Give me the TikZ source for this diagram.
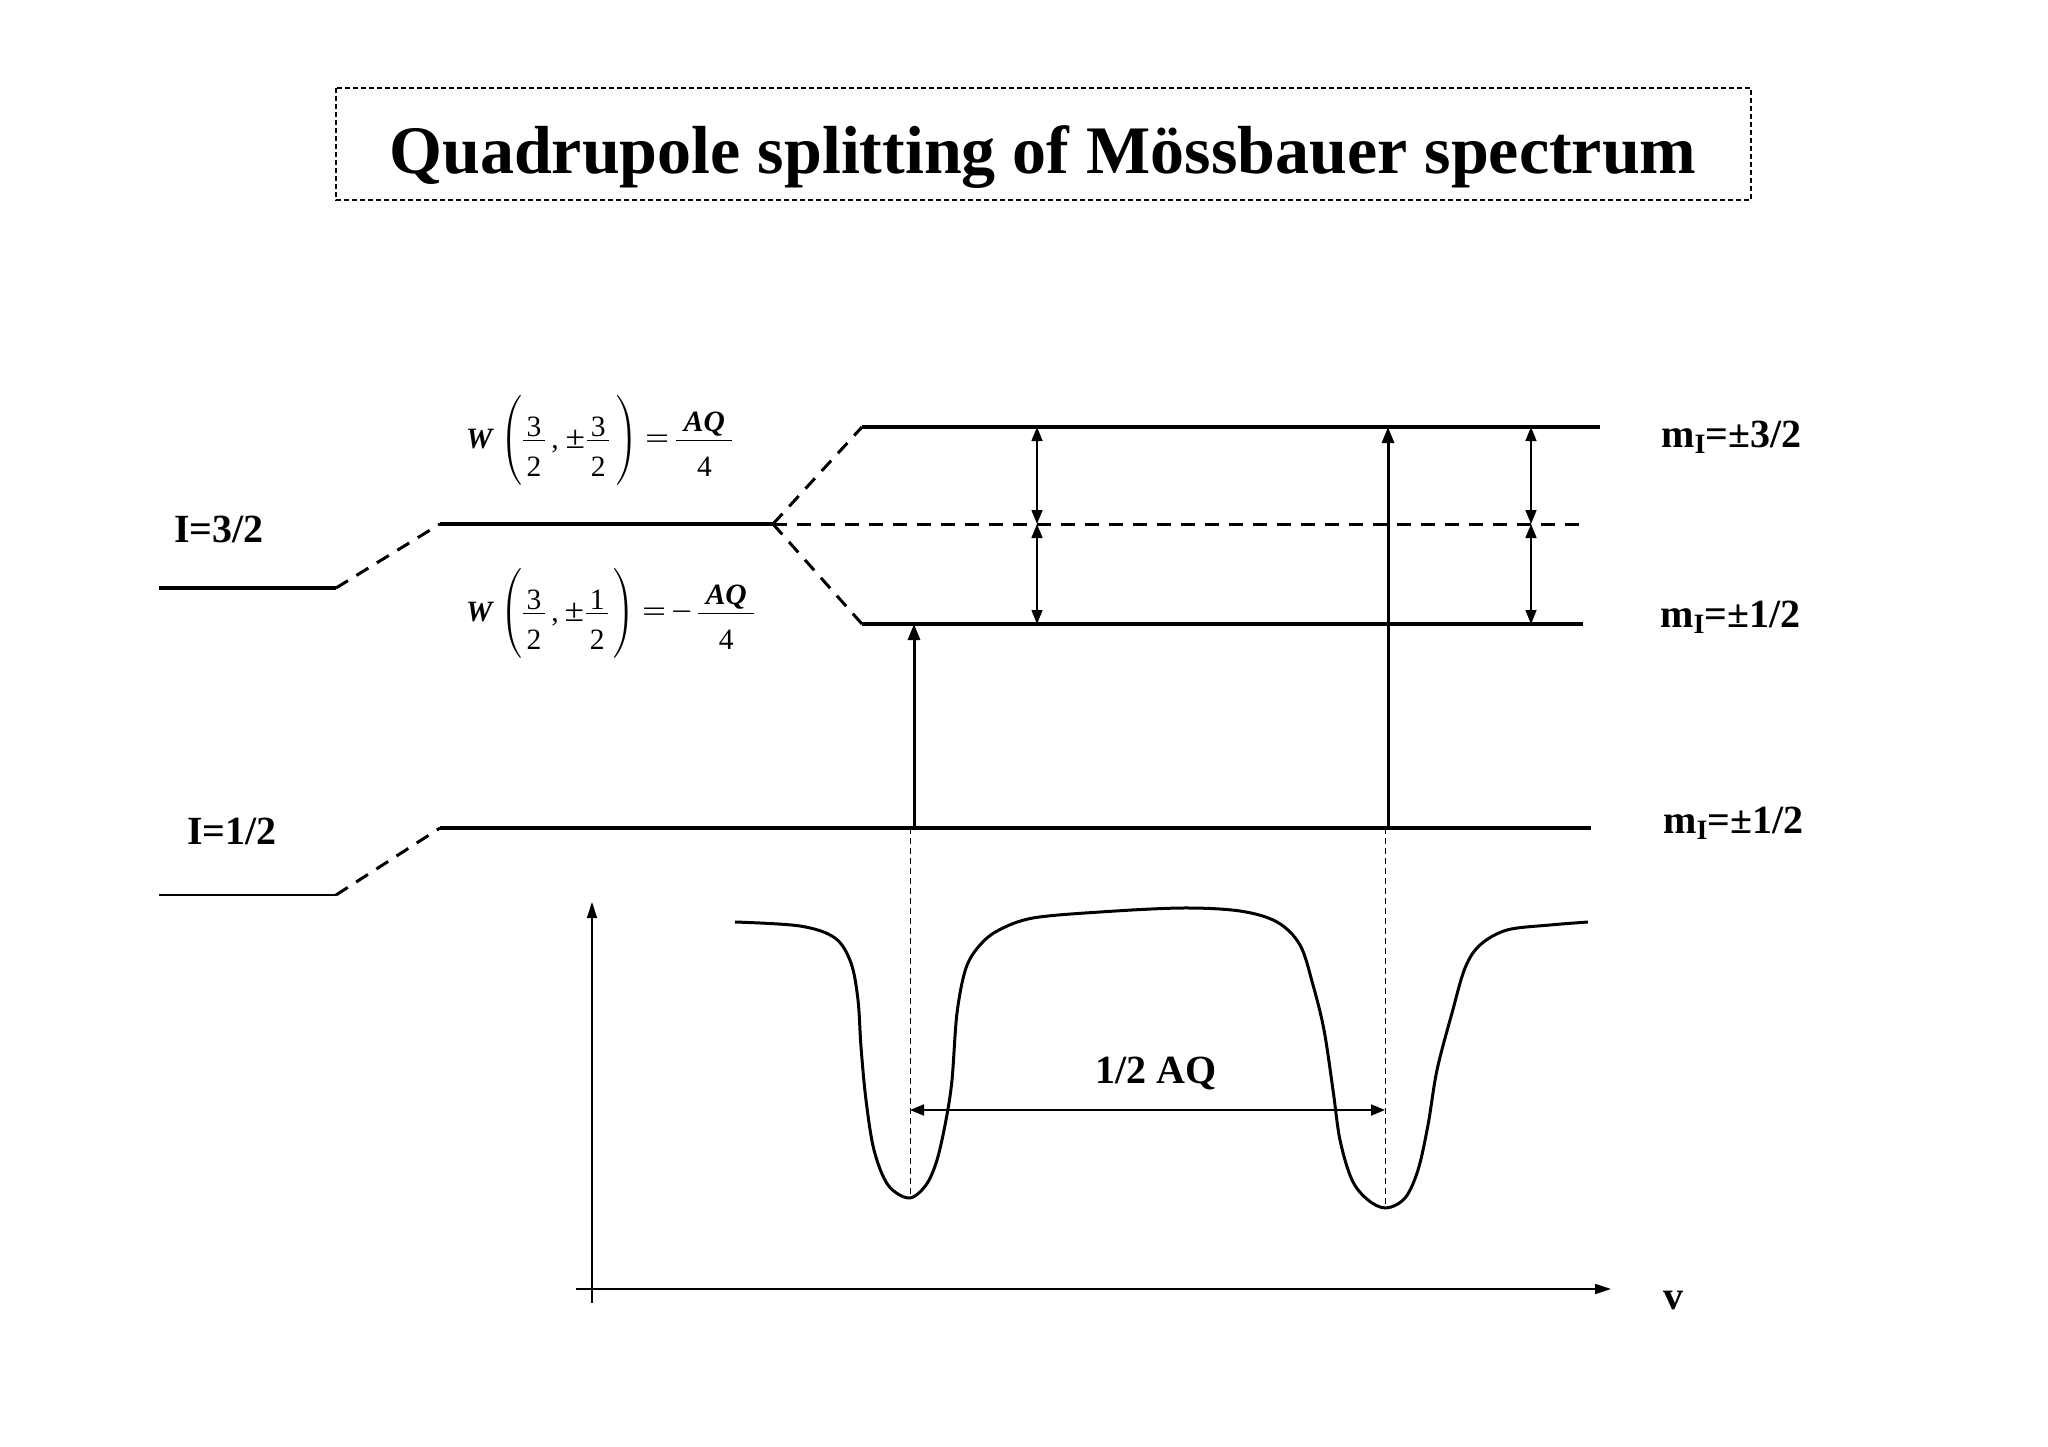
\RequirePackage{fix-cm}
\documentclass[tikz,border=0pt]{standalone}
\usepackage{fontspec}
\usepackage{amsmath}
\usepackage{graphicx}
\setmainfont{Liberation Serif}
\usetikzlibrary{arrows.meta}
\newcommand{\dgt}[1]{\makebox[22pt]{#1}}
\newcommand{\qfrac}[2]{\genfrac{}{}{0.9pt}{0}{\raisebox{-8pt}{\dgt{#1}}}{\raisebox{-8pt}{\dgt{#2}}}}
\newcommand{\aqfrac}{\genfrac{}{}{0.9pt}{0}{\raisebox{-3.5pt}{\makebox[56pt]{\textbf{\textit{AQ}}}}}{\raisebox{-8pt}{\makebox[56pt]{4}}}}
\newcommand{\bigparenstrut}{\rule[-38pt]{0pt}{90pt}}
\newcommand{\teq}{\text{\scalebox{1.45}[1]{=}}}
\newcommand{\tpm}{\text{\scalebox{1.2}[1.1]{±}}}
\newcommand{\tminus}{\text{\scalebox{1.25}[1]{−}}}
\begin{document}
\begin{tikzpicture}[x=1pt,y=-1pt,
  lev/.style={line width=3.2pt},
  dlev/.style={line width=3pt, dash pattern=on 14pt off 10pt},
  gaparrow/.style={line width=1.4pt, {Triangle[length=14pt,width=11pt]}-{Triangle[length=14pt,width=11pt]}},
  trans/.style={line width=3pt, -{Triangle[length=16pt,width=12pt]}},
  guide/.style={line width=1pt, dash pattern=on 6pt off 4pt},
  axis/.style={line width=1.8pt, -{Triangle[length=16pt,width=10pt]}},
  lbl/.style={font=\fontsize{40}{48}\selectfont\bfseries, inner sep=0pt, anchor=base},
  frm/.style={font=\fontsize{29.5}{34}\selectfont, inner sep=0pt, anchor=west}]
\useasboundingbox (0,0) rectangle (2048,1447);
\fill[white] (0,0) rectangle (2048,1447);
% title
\draw[line width=1.5pt, dash pattern=on 5pt off 3pt] (336,88) rectangle (1751,200);
\node[font=\fontsize{68}{80}\selectfont\bfseries, inner sep=0pt, anchor=base] (title) at (1043,174) {Quadrupole splitting of Mössbauer spectrum};
% coordinates
\coordinate (a1) at (159,588); \coordinate (a2) at (336,588);
\coordinate (a3) at (440,524); \coordinate (a4) at (773,524);
\coordinate (t1) at (862,427); \coordinate (t2) at (1600,427);
\coordinate (b1) at (862,624); \coordinate (b2) at (1583,624);
\coordinate (m2) at (1583,524);
\coordinate (g1) at (159,895); \coordinate (g2) at (336,895);
\coordinate (g3) at (440,828); \coordinate (g4) at (1591,828);
% levels
\draw[lev] (a1) -- (a2);
\draw[dlev] (a2) -- (a3);
\draw[lev] (a3) -- (a4);
\draw[dlev] (a4) -- (t1);
\draw[dlev] (a4) -- (b1);
\draw[dlev] (a4) -- (m2);
\draw[lev] (t1) -- (t2);
\draw[lev] (b1) -- (b2);
\draw[line width=2pt] (g1) -- (g2);
\draw[dlev] (g2) -- (g3);
\draw[lev] (g3) -- (g4);
% splitting arrows
\coordinate (p1t) at (1037,427); \coordinate (p1m) at (1037,524); \coordinate (p1b) at (1037,624);
\coordinate (p2t) at (1531,427); \coordinate (p2m) at (1531,524); \coordinate (p2b) at (1531,624);
\draw[gaparrow] (p1t) -- (p1m);
\draw[gaparrow] (p1m) -- (p1b);
\draw[gaparrow] (p2t) -- (p2m);
\draw[gaparrow] (p2m) -- (p2b);
% transitions
\coordinate (q1g) at (914,828); \coordinate (q1e) at (914,624);
\coordinate (q2g) at (1388,828); \coordinate (q2e) at (1388,427);
\draw[trans] (q1g) -- (q1e);
\draw[trans] (q2g) -- (q2e);
% guides
\coordinate (d1t) at (910,828); \coordinate (d1b) at (910,1199);
\coordinate (d2t) at (1385,828); \coordinate (d2b) at (1385,1208);
\draw[guide] (d1t) -- (d1b);
\draw[guide] (d2t) -- (d2b);
% labels
\node[lbl] (l32) at (219,542) {I=3/2};
\node[lbl] (l12) at (232,844) {I=1/2};
\node[lbl, anchor=base west] (m32) at (1661,447) {m\textsubscript{I}=±3/2};
\node[lbl, anchor=base west] (m12a) at (1660,627) {m\textsubscript{I}=±1/2};
\node[lbl, anchor=base west] (m12b) at (1663,833) {m\textsubscript{I}=±1/2};
% formulas
\node[frm] (f1) at (466,441) {$\displaystyle \textbf{\textit{W}}\hspace{1pt}\left(\bigparenstrut\qfrac{3}{2}\hspace{5pt}\text{,}\hspace{7pt}\tpm\hspace{1pt}\qfrac{3}{2}\hspace{6pt}\right)\hspace{2pt}\teq\hspace{6pt}\aqfrac$};
\node[frm] (f2) at (466,614) {$\displaystyle \textbf{\textit{W}}\hspace{1pt}\left(\bigparenstrut\qfrac{3}{2}\hspace{5pt}\text{,}\hspace{6pt}\tpm\hspace{1pt}\qfrac{1}{2}\hspace{4pt}\right)\hspace{2pt}\teq\hspace{5pt}\tminus\hspace{5pt}\aqfrac$};
% spectrum axes
\coordinate (o1) at (592,1303); \coordinate (yt) at (592,902);
\coordinate (o2) at (576,1289); \coordinate (xt) at (1611,1289);
\draw[axis, line width=1.3pt] (o1) -- (yt);
\draw[axis] (o2) -- (xt);
\node[lbl] (v) at (1673,1309) {v};
% spectrum curve
\draw[line width=3pt, line join=round] plot[smooth, tension=0.55] coordinates {
 (735,922) (800,926) (835,938) (851,963) (858,1000) (861,1047) (866,1100) (874,1150) (888,1185) (909,1198)
 (926,1185) (937,1160) (946,1120) (952,1080) (957,1013) (966,968) (980,945) (999,930) (1033,918) (1100,912)
 (1182,908) (1240,911) (1277,922) (1300,945) (1313,985) (1324,1030) (1333,1090) (1340,1140) (1352,1180) (1368,1200)
 (1386,1208) (1405,1198) (1418,1170) (1428,1125) (1437,1070) (1452,1013) (1465,968) (1480,945) (1507,930) (1550,925) (1588,922)};
% splitting distance
\draw[gaparrow, line width=1.8pt] (d1b |- 0,1110) coordinate (h1) -- (d2b |- 0,1110) coordinate (h2);
\node[lbl] (aq) at (1156,1083) {1/2 AQ};
\end{tikzpicture}
\end{document}
